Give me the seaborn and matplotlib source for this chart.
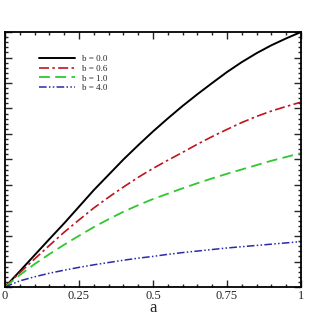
import numpy as np
import pandas as pd
import matplotlib
matplotlib.use("Agg")
import matplotlib.pyplot as plt
import seaborn as sns
from matplotlib.ticker import MultipleLocator

a_vals = [0.0, 0.05, 0.1, 0.15, 0.2, 0.25, 0.3, 0.35, 0.4, 0.45, 0.5,
          0.55, 0.6, 0.65, 0.7, 0.75, 0.8, 0.85, 0.9, 0.95, 1.0]
y_b00 = [0.0, 0.062, 0.125, 0.188, 0.25, 0.315, 0.38, 0.44, 0.50, 0.556, 0.61,
         0.661, 0.71, 0.756, 0.80, 0.843, 0.882, 0.917, 0.948, 0.975, 1.0]
y_b06 = [0.0, 0.056, 0.11, 0.163, 0.215, 0.263, 0.31, 0.352, 0.392, 0.43, 0.465,
         0.497, 0.528, 0.56, 0.59, 0.618, 0.645, 0.669, 0.69, 0.708, 0.725]
y_b10 = [0.0, 0.047, 0.09, 0.129, 0.166, 0.201, 0.235, 0.266, 0.295, 0.321, 0.345,
         0.366, 0.387, 0.407, 0.426, 0.444, 0.461, 0.478, 0.495, 0.51, 0.525]
y_b40 = [0.0, 0.024, 0.04, 0.054, 0.066, 0.077, 0.087, 0.096, 0.105, 0.113, 0.12,
         0.128, 0.135, 0.141, 0.147, 0.153, 0.158, 0.163, 0.168, 0.173, 0.178]
labels = ["b = 0.0", "b = 0.6", "b = 1.0", "b = 4.0"]
x_ticks = [0, 0.25, 0.5, 0.75, 1]
x_ticklabels = ["0", "0.25", "0.5", "0.75", "1"]

series = [y_b00, y_b06, y_b10, y_b40]
df = pd.concat([pd.DataFrame({"a": a_vals, "v": s, "b": lab}) for s, lab in zip(series, labels)])

sns.set_style("ticks")
plt.rcParams["font.family"] = ["Liberation Serif", "DejaVu Serif"]

fig = plt.figure(figsize=(3.2, 3.2), dpi=100)
ax = fig.add_axes([5/320, 1-287/320, 296/320, 255/320])

styles = [
    dict(color="black", linestyle="-", linewidth=1.4),
    dict(color="#c0141c", linestyle=(0, (6, 2, 1.5, 2)), linewidth=1.2),
    dict(color="#2ec82e", linestyle=(0, (6, 3)), linewidth=1.3),
    dict(color="#2a2aa8", linestyle=(0, (5, 1.5, 1, 1.5, 1, 1.5)), linewidth=1.1),
]
for lab, st in zip(labels, styles):
    sub = df[df["b"] == lab]
    sns.lineplot(data=sub, x="a", y="v", ax=ax, label=lab, **st)

ax.set_xlim(0, 1)
ax.set_ylim(0, 1)
ax.xaxis.set_minor_locator(MultipleLocator(0.05))
ax.yaxis.set_major_locator(MultipleLocator(0.1))
ax.yaxis.set_minor_locator(MultipleLocator(0.02))
ax.set_xticks(x_ticks)
ax.set_xticklabels(x_ticklabels)
ax.tick_params(which="both", direction="in", top=True, right=True, left=True, bottom=True,
               labelleft=False, width=1.0)
ax.tick_params(which="major", length=5)
ax.tick_params(which="minor", length=2.5)
ax.tick_params(axis="x", labelsize=9, pad=2)
for sp in ax.spines.values():
    sp.set_linewidth(1.3)
    sp.set_color("black")
ax.set_xlabel("a", fontsize=12, labelpad=-1)
ax.set_ylabel("")

leg = ax.legend(loc="upper left", bbox_to_anchor=(0.095, 0.935), frameon=False,
                fontsize=6.5, handlelength=3.9, labelspacing=0.15, handletextpad=0.8,
                borderpad=0.2)

fig.savefig("out.png", dpi=100)
